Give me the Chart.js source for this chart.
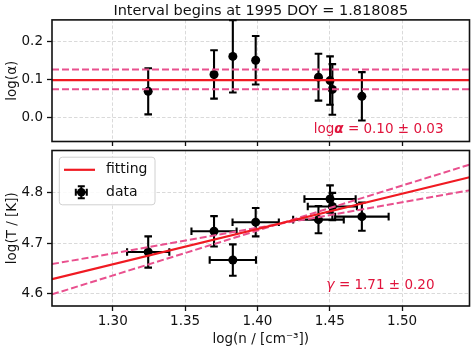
<!DOCTYPE html>
<html><head><meta charset="utf-8">
<script src="https://cdn.jsdelivr.net/npm/chart.js@4"></script>
<style>
html,body{margin:0;padding:0;background:#fff;}
#wrap{position:relative;width:474px;height:351px;overflow:hidden;}
#c1{position:absolute;left:0;top:0;width:474px;height:146px;}
#c2{position:absolute;left:0;top:146px;width:474px;height:205px;}
</style></head><body>
<div id="wrap"><canvas id="c1" width="474" height="146"></canvas><canvas id="c2" width="474" height="205"></canvas></div>
<script>
// ---- data ----
const titleText = 'Interval begins at 1995 DOY = 1.818085';
const xRange = [1.258, 1.5466];
const alphaRange = [-0.0615, 0.255];
const tempRange = [4.576, 4.884];
const logN = [1.3245, 1.370, 1.383, 1.3988, 1.4422, 1.4502, 1.4518, 1.4722];
const logNErr = [0.0146, 0.0156, 0.016, 0.016, 0.0175, 0.0177, 0.017, 0.0185];
const logT = [4.683, 4.724, 4.667, 4.742, 4.747, 4.788, 4.773, 4.753];
const logTErr = [0.031, 0.030, 0.031, 0.028, 0.027, 0.027, 0.027, 0.028];
const logAlpha = [0.069, 0.113, 0.160, 0.150, 0.106, 0.097, 0.074, 0.056];
const logAlphaErr = [0.060, 0.063, 0.094, 0.063, 0.061, 0.063, 0.066, 0.063];
const alphaFit = [0.098, 0.098];
const alphaFitHi = [0.1256, 0.1256];
const alphaFitLo = [0.0744, 0.0744];
const tempFit = [4.629, 4.831];
const tempFitSteep = [4.599, 4.856];
const tempFitShallow = [4.659, 4.805];
const alphaNote = ['log', 'α', ' = 0.10 ± 0.03'];
const gammaNote = ['γ', ' = 1.71 ± 0.20'];
const legendLabels = ['fitting', 'data'];

// ---- styles ----
const FONT = 'DejaVu Sans';
const RED = '#f01a22';
const PINK = '#e9508e';
const CRIMSON = '#e0143c';
const GRID = '#d6d6d6';
const INK = '#111';

const pts = (xs, ys) => xs.map((x, i) => ({x: x, y: ys[i]}));

function errorBars(xs, ys, xe, ye, dsIndex) {
  return {
    id: 'errorBars',
    beforeDatasetDraw(chart, args) {
      if (args.index !== dsIndex) return;
      const ctx = chart.ctx, sx = chart.scales.x, sy = chart.scales.y;
      const cap = 3.8;
      ctx.save();
      ctx.strokeStyle = '#000';
      ctx.lineWidth = 2.1;
      ctx.beginPath();
      for (let i = 0; i < xs.length; i++) {
        const px = sx.getPixelForValue(xs[i]);
        const py = sy.getPixelForValue(ys[i]);
        if (ye) {
          const y0 = sy.getPixelForValue(ys[i] - ye[i]);
          const y1 = sy.getPixelForValue(ys[i] + ye[i]);
          ctx.moveTo(px, y0); ctx.lineTo(px, y1);
          ctx.moveTo(px - cap, y0); ctx.lineTo(px + cap, y0);
          ctx.moveTo(px - cap, y1); ctx.lineTo(px + cap, y1);
        }
        if (xe) {
          const x0 = sx.getPixelForValue(xs[i] - xe[i]);
          const x1 = sx.getPixelForValue(xs[i] + xe[i]);
          ctx.moveTo(x0, py); ctx.lineTo(x1, py);
          ctx.moveTo(x0, py - cap); ctx.lineTo(x0, py + cap);
          ctx.moveTo(x1, py - cap); ctx.lineTo(x1, py + cap);
        }
      }
      ctx.stroke();
      ctx.restore();
    }
  };
}

const frame = {
  id: 'frame',
  afterDatasetsDraw(chart) {
    const {left, top, right, bottom} = chart.chartArea;
    const ctx = chart.ctx;
    ctx.save();
    ctx.strokeStyle = INK;
    ctx.lineWidth = 1.6;
    ctx.strokeRect(left, top, right - left, bottom - top);
    ctx.restore();
  }
};

function drawSegments(ctx, segs, fonts, xRight, yMid, color) {
  ctx.save();
  ctx.fillStyle = color;
  ctx.textBaseline = 'middle';
  let widths = segs.map((s, i) => { ctx.font = fonts[i]; return ctx.measureText(s).width; });
  let x = xRight - widths.reduce((a, b) => a + b, 0);
  segs.forEach((s, i) => { ctx.font = fonts[i]; ctx.textAlign = 'left'; ctx.fillText(s, x, yMid); x += widths[i]; });
  ctx.restore();
}

const alphaNotePlugin = {
  id: 'alphaNote',
  afterDraw(chart) {
    const a = chart.chartArea;
    drawSegments(chart.ctx, alphaNote,
      [`13.5px "${FONT}"`, `bold italic 13.5px "${FONT}"`, `13.5px "${FONT}"`],
      a.right - 26, a.bottom - 12, CRIMSON);
  }
};

const gammaNotePlugin = {
  id: 'gammaNote',
  afterDraw(chart) {
    const a = chart.chartArea;
    drawSegments(chart.ctx, gammaNote,
      [`italic 14px "${FONT}"`, `13.5px "${FONT}"`],
      a.right - 35, a.bottom - 20.5, CRIMSON);
  }
};

const legendPlugin = {
  id: 'customLegend',
  afterDraw(chart) {
    const a = chart.chartArea, ctx = chart.ctx;
    const bx = a.left + 7.3, by = a.top + 6.7, bw = 95.7, bh = 47.6, r = 3;
    ctx.save();
    ctx.beginPath();
    ctx.moveTo(bx + r, by);
    ctx.arcTo(bx + bw, by, bx + bw, by + bh, r);
    ctx.arcTo(bx + bw, by + bh, bx, by + bh, r);
    ctx.arcTo(bx, by + bh, bx, by, r);
    ctx.arcTo(bx, by, bx + bw, by, r);
    ctx.closePath();
    ctx.fillStyle = 'rgba(255,255,255,0.85)';
    ctx.fill();
    ctx.strokeStyle = '#d0d0d0';
    ctx.lineWidth = 1;
    ctx.stroke();
    // fitting line
    const y1 = by + 12.6, y2 = by + 35;
    ctx.strokeStyle = RED; ctx.lineWidth = 2.2;
    ctx.beginPath(); ctx.moveTo(bx + 4.7, y1); ctx.lineTo(bx + 35.7, y1); ctx.stroke();
    // data marker with error bars
    const mx = bx + 22;
    ctx.strokeStyle = '#000'; ctx.lineWidth = 2;
    ctx.beginPath();
    ctx.moveTo(mx - 5.5, y2); ctx.lineTo(mx + 5.5, y2);
    ctx.moveTo(mx - 5.5, y2 - 3.5); ctx.lineTo(mx - 5.5, y2 + 3.5);
    ctx.moveTo(mx + 5.5, y2 - 3.5); ctx.lineTo(mx + 5.5, y2 + 3.5);
    ctx.moveTo(mx, y2 - 6); ctx.lineTo(mx, y2 + 6);
    ctx.moveTo(mx - 3.5, y2 - 6); ctx.lineTo(mx + 3.5, y2 - 6);
    ctx.moveTo(mx - 3.5, y2 + 6); ctx.lineTo(mx + 3.5, y2 + 6);
    ctx.stroke();
    ctx.fillStyle = '#000';
    ctx.beginPath(); ctx.arc(mx, y2, 4.3, 0, Math.PI * 2); ctx.fill();
    ctx.font = `14px "${FONT}"`;
    ctx.textBaseline = 'middle';
    ctx.textAlign = 'left';
    ctx.fillStyle = INK;
    ctx.fillText(legendLabels[0], bx + 46.7, y1);
    ctx.fillText(legendLabels[1], bx + 46.7, y2);
    ctx.restore();
  }
};

const tickFont = {family: FONT, size: 13.5};
const gridCommon = {color: GRID, lineWidth: 0.9, tickColor: INK, tickLength: 5, tickWidth: 1.3, tickBorderDash: []};

function xScale(showLabels, afterH) {
  return {
    type: 'linear', min: xRange[0], max: xRange[1],
    ticks: {display: showLabels, stepSize: 0.05, includeBounds: false, color: INK, font: tickFont, padding: 2,
            maxRotation: 0, autoSkip: false, callback: v => v.toFixed(2)},
    grid: gridCommon,
    border: {display: false, dash: [3.5, 2]},
    title: showLabels ? {display: true, text: 'log(n / [cm⁻³])', color: INK, font: {family: FONT, size: 13.5}, padding: {top: 0, bottom: 3}} : {display: false},
    afterFit: s => { s.height = afterH; s.paddingLeft = 0; s.paddingRight = 0; }
  };
}

function yScale(range, title, fmt) {
  return {
    type: 'linear', min: range[0], max: range[1],
    ticks: {stepSize: 0.1, includeBounds: false, color: INK, font: tickFont, padding: 4, callback: fmt},
    grid: gridCommon,
    border: {display: false, dash: [3.5, 2]},
    title: {display: true, text: title, color: INK, font: {family: FONT, size: 13.5}, padding: {top: 4, bottom: 0}},
    afterFit: s => { s.width = 52; s.paddingTop = 0; s.paddingBottom = 0; }
  };
}

const lineDs = (data, color, dash, width) => ({
  type: 'scatter', data: data, showLine: true, borderColor: color, backgroundColor: color,
  borderWidth: width, borderDash: dash, pointRadius: 0, pointHoverRadius: 0, order: 1, fill: false
});

// ---- top panel ----
new Chart(document.getElementById('c1'), {
  type: 'scatter',
  data: {
    datasets: [
      {label: 'data', data: pts(logN, logAlpha), backgroundColor: '#000', borderColor: '#000', pointRadius: 4.5, pointBorderWidth: 0, order: 2},
      lineDs(pts(xRange, alphaFit), RED, [], 2.2),
      lineDs(pts(xRange, alphaFitHi), PINK, [7, 3], 2),
      lineDs(pts(xRange, alphaFitLo), PINK, [7, 3], 2)
    ]
  },
  options: {
    responsive: false, animation: false, devicePixelRatio: 1,
    layout: {padding: {left: 0, right: 1, top: 0, bottom: 0}},
    plugins: {
      legend: {display: false}, tooltip: {enabled: false},
      title: {display: true, text: titleText, color: INK, font: {family: FONT, size: 14.5, weight: 'normal'},
              padding: {top: 2.5, bottom: 0}, fullSize: false}
    },
    scales: {x: xScale(false, 3), y: yScale(alphaRange, 'log(α)', v => v.toFixed(1))}
  },
  plugins: [errorBars(logN, logAlpha, null, logAlphaErr, 0), frame, alphaNotePlugin]
});

// ---- bottom panel ----
new Chart(document.getElementById('c2'), {
  type: 'scatter',
  data: {
    datasets: [
      {label: legendLabels[1], data: pts(logN, logT), backgroundColor: '#000', borderColor: '#000', pointRadius: 4.5, pointBorderWidth: 0, order: 2},
      Object.assign(lineDs(pts(xRange, tempFit), RED, [], 2.2), {label: legendLabels[0]}),
      lineDs(pts(xRange, tempFitSteep), PINK, [7, 3], 2),
      lineDs(pts(xRange, tempFitShallow), PINK, [7, 3], 2)
    ]
  },
  options: {
    responsive: false, animation: false, devicePixelRatio: 1,
    layout: {padding: {left: 0, right: 1, top: 3, bottom: 0}},
    plugins: {legend: {display: false}, tooltip: {enabled: false}, title: {display: false}},
    scales: {x: xScale(true, 45), y: yScale(tempRange, 'log(T / [K])', v => v.toFixed(1))}
  },
  plugins: [errorBars(logN, logT, logNErr, logTErr, 0), frame, gammaNotePlugin, legendPlugin]
});
</script>
</body></html>
